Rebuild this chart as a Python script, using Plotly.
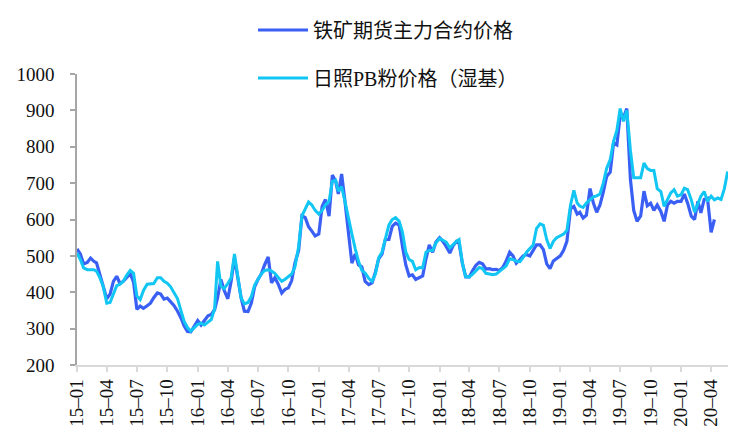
import plotly.graph_objects as go

# ---- data (sampled on the 1st, 11th and 21st of each month) ----
sample_days = (1, 11, 21)
all_dates = [f"{y}-{m:02d}-{d:02d}" for y in range(2015, 2021) for m in range(1, 13) for d in sample_days]

futures = [
    519, 505, 478, 482, 494, 485, 481, 448, 420, 382, 395, 430, 444, 424, 430, 440, 451, 428,
    353, 362, 356, 363, 370, 385, 398, 395, 381, 384, 374, 364, 348, 330, 307, 292, 291, 305,
    322, 310, 322, 335, 339, 352, 385, 435, 405, 382, 430, 495, 440, 385, 348, 347, 370, 415,
    435, 450, 475, 497, 426, 440, 421, 398, 408, 412, 432, 481, 515, 610, 605, 580, 568, 555,
    560, 636, 655, 609, 722, 705, 670, 725, 650, 560, 480, 505, 475, 470, 430, 421, 426, 455,
    492, 505, 545, 545, 581, 590, 585, 525, 475, 445, 448, 435, 440, 445, 492, 530, 510, 538,
    550, 540, 526, 508, 528, 540, 535, 480, 442, 442, 460, 474, 482, 478, 464, 465, 462, 463,
    460, 468, 485, 510, 500, 480, 490, 500, 504, 500, 515, 530, 530, 517, 478, 465, 486, 492,
    500, 515, 540, 630, 636, 615, 620, 604, 612, 685, 645, 620, 640, 675, 718, 730, 810, 805,
    885, 880, 905, 710, 625, 595, 610, 678, 638, 645, 625, 640, 622, 595, 640, 650, 645, 650,
    650, 670, 645, 609, 600, 650, 618, 655, 658, 565, 600,
]

spot = [
    508, 490, 467, 462, 462, 462, 458, 440, 417, 370, 372, 398, 418, 422, 430, 448, 460, 452,
    390, 380, 405, 422, 423, 424, 440, 440, 430, 425, 415, 400, 382, 350, 320, 303, 293, 302,
    312, 315, 310, 318, 325, 355, 485, 417, 410, 424, 440, 505, 440, 385, 368, 372, 388, 420,
    435, 450, 460, 462, 458, 452, 440, 430, 436, 444, 450, 470, 525, 610, 630, 648, 640, 625,
    615, 625, 640, 650, 705, 708, 678, 690, 650, 600, 560, 520, 485, 460, 453, 438, 430, 450,
    495, 510, 550, 585, 600, 605, 595, 565, 510, 490, 485, 462, 468, 467, 510, 515, 515, 535,
    548, 542, 538, 522, 532, 540, 545, 480, 443, 442, 450, 460, 468, 465, 452, 450, 448, 450,
    458, 465, 472, 492, 490, 485, 484, 496, 510, 520, 530, 575, 588, 584, 545, 520, 540, 550,
    556, 560, 570, 640, 680, 645, 637, 633, 645, 655, 662, 665, 670, 700, 740, 765, 815, 845,
    905, 870, 900, 790, 715, 715, 715, 755, 740, 735, 735, 685, 677, 636, 654, 673, 682, 664,
    668, 686, 682, 654, 620, 645, 664, 677, 650, 664, 654, 659, 655, 685, 732,
]

futures_dates = all_dates[:len(futures)]
spot_dates = all_dates[:len(spot)]

series_names = ["铁矿期货主力合约价格", "日照PB粉价格（湿基）"]

tick_dates = ["2015-01-01", "2015-04-01", "2015-07-01", "2015-10-01",
              "2016-01-01", "2016-04-01", "2016-07-01", "2016-10-01",
              "2017-01-01", "2017-04-01", "2017-07-01", "2017-10-01",
              "2018-01-01", "2018-04-01", "2018-07-01", "2018-10-01",
              "2019-01-01", "2019-04-01", "2019-07-01", "2019-10-01",
              "2020-01-01", "2020-04-01"]
tick_labels = ["15–01", "15–04", "15–07", "15–10", "16–01", "16–04", "16–07", "16–10",
               "17–01", "17–04", "17–07", "17–10", "18–01", "18–04", "18–07", "18–10",
               "19–01", "19–04", "19–07", "19–10", "20–01", "20–04"]

BLUE = "#3A5FF5"
CYAN = "#12C6F3"
SERIF = "Liberation Serif, Times New Roman, serif"
LEG_FONT = "Liberation Serif, Noto Sans CJK SC, serif"

fig = go.Figure()
fig.add_trace(go.Scatter(x=futures_dates, y=futures, mode="lines", name=series_names[0],
                         line=dict(color=BLUE, width=3.2), legend="legend"))
fig.add_trace(go.Scatter(x=spot_dates, y=spot, mode="lines", name=series_names[1],
                         line=dict(color=CYAN, width=3), legend="legend2"))

legend_common = dict(xref="container", yref="container", xanchor="left", yanchor="middle",
                     bgcolor="rgba(0,0,0,0)", borderwidth=0, itemwidth=50,
                     font=dict(family=LEG_FONT, size=20, color="#111111"))
fig.update_layout(
    width=747, height=442,
    paper_bgcolor="white", plot_bgcolor="white",
    margin=dict(l=77, r=19, t=74, b=77, autoexpand=False),
    showlegend=True,
    legend=dict(x=253 / 747, y=1 - 30 / 442, **legend_common),
    legend2=dict(x=253 / 747, y=1 - 78 / 442, **legend_common),
    xaxis=dict(type="date", range=["2015-01-01", "2020-05-22"],
               tickmode="array", tickvals=tick_dates, ticktext=tick_labels,
               tickangle=-90, showgrid=False, zeroline=False,
               showline=True, linecolor="#D9D9D9", linewidth=1.5,
               ticks="outside", ticklen=5, tickcolor="#D9D9D9", tickwidth=1.5,
               tickfont=dict(family=SERIF, size=19, color="#111111")),
    yaxis=dict(range=[200, 1000], tickmode="linear", tick0=200, dtick=100,
               showgrid=False, zeroline=False,
               showline=True, linecolor="#A6A6A6", linewidth=1.5,
               ticks="outside", ticklen=5, tickcolor="#A6A6A6", tickwidth=1.5,
               ticklabelstandoff=12,
               tickfont=dict(family=SERIF, size=19, color="#111111")),
)

fig.write_html("out.html")
